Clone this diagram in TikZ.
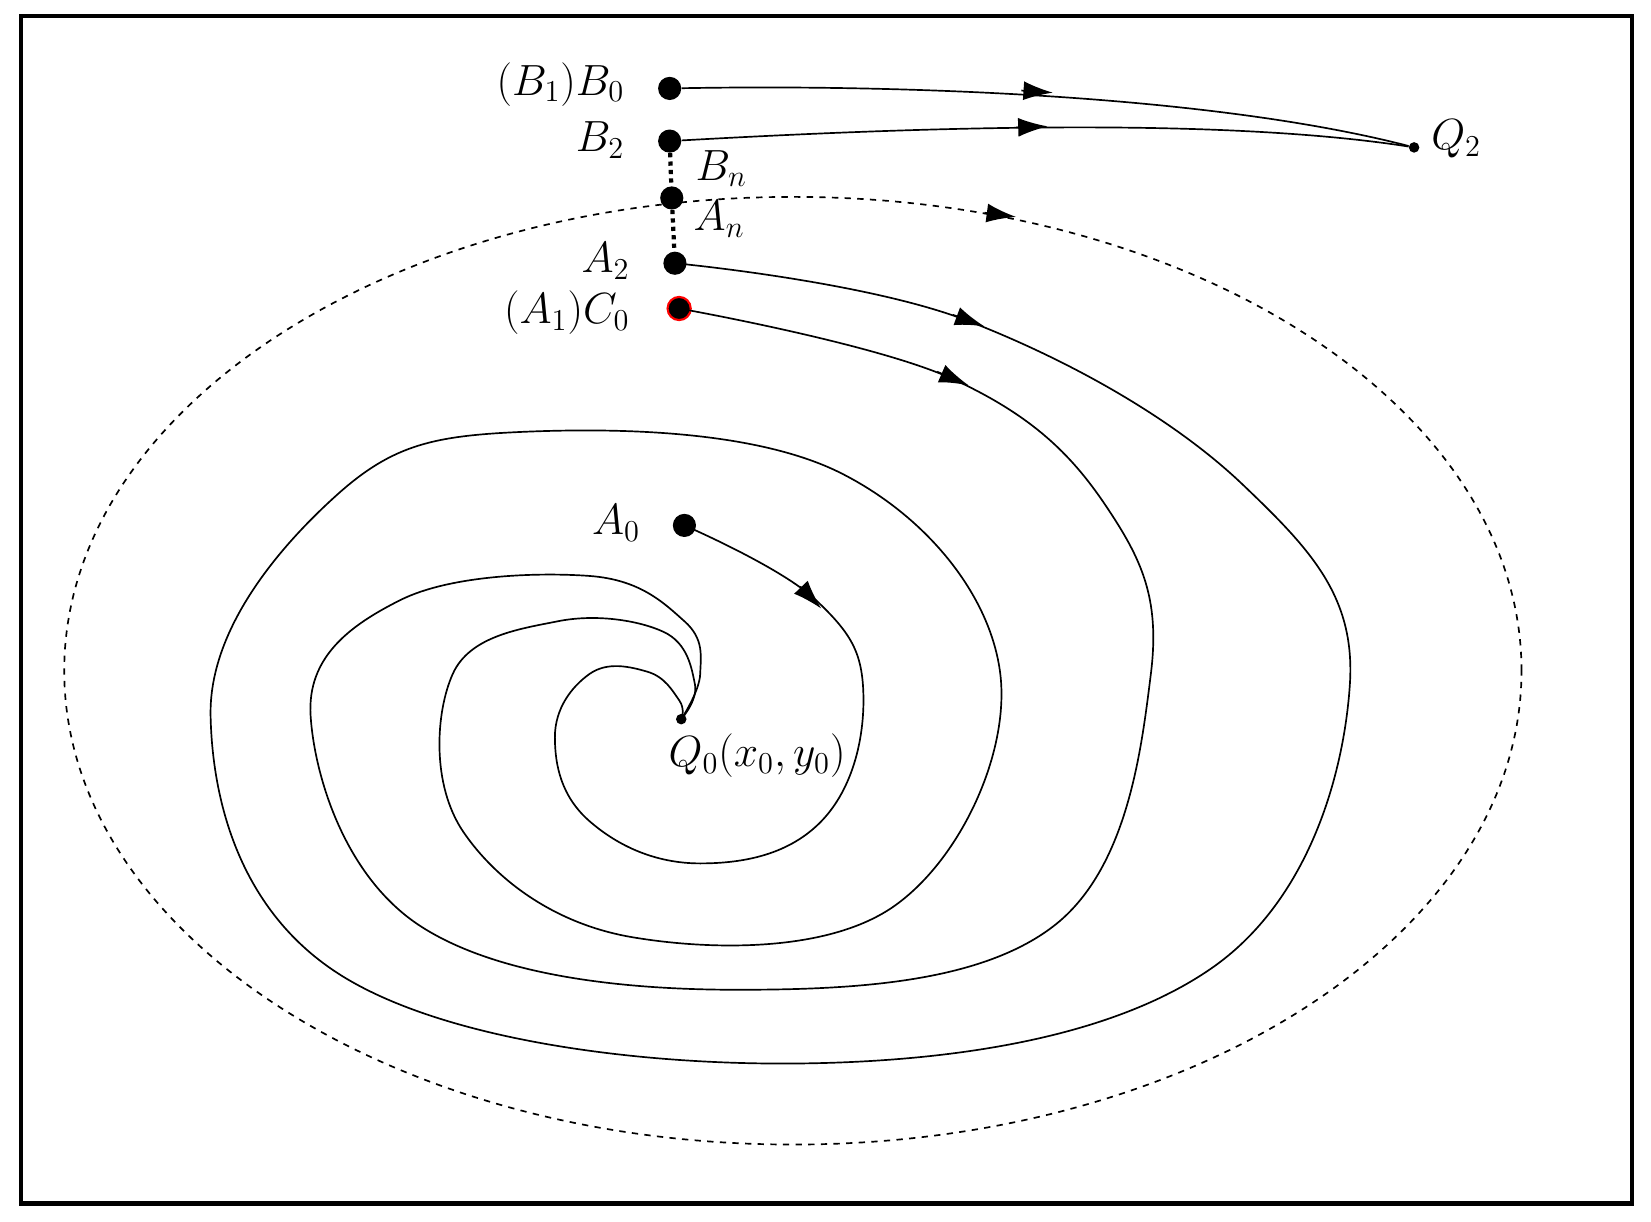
\documentclass[tikz,border=0pt]{standalone}
\usetikzlibrary{arrows.meta}
\begin{document}
\begin{tikzpicture}[x=0.5pt,y=-0.5pt,
  dot/.style={circle,fill=black,inner sep=0pt,minimum size=11pt},
  lab/.style={font=\fontsize{21}{24}\selectfont},
  curve/.style={line width=0.8pt},
  tip/.style={line width=0.8pt,-{Latex[length=14pt,width=9pt]}}]
\useasboundingbox (0,0) rectangle (1568,1160);
\draw[line width=2pt] (20,15) rectangle (1550,1143);
\node[dot] (B0) at (636,84) {};
\node[dot] (B2) at (636,134) {};
\node[dot] (Bn) at (638,188) {};
\node[dot] (A2) at (641,250) {};
\node[dot,draw=red,line width=1pt] (C0) at (645,293) {};
\node[dot] (A0) at (650,499) {};
\node[circle,fill=black,inner sep=0pt,minimum size=5pt] (Q0) at (647,683) {};
\node[circle,fill=black,inner sep=0pt,minimum size=5pt] (Q2) at (1343,140) {};
\node[lab,anchor=east] at (600,80) {$(B_1)B_0$};
\node[lab,anchor=east] at (600,133) {$B_2$};
\node[lab] at (685,160) {$B_n$};
\node[lab] at (683,208) {$A_n$};
\node[lab,anchor=east] at (605,248) {$A_2$};
\node[lab,anchor=east] at (605,297) {$(A_1)C_0$};
\node[lab,anchor=east] at (615,497) {$A_0$};
\node[lab] at (1383,132) {$Q_2$};
\node[lab,anchor=west] at (628,718) {$Q_0(x_0,y_0)$};
\draw[line width=2pt,dotted] (B2)--(Bn)--(A2);
\draw[curve] (B0) .. controls (850,80) and (1150,90) .. (Q2);
\draw[curve] (B2) .. controls (850,122) and (1150,110) .. (Q2);
\draw[tip] (970,86) -- (1000,88);
\draw[tip] (965,121) -- (995,120);
\draw[curve,dashed] (753,637) ellipse [x radius=692, y radius=-450];
\draw[tip] (935,202) -- (965,206);
\draw[curve] plot[smooth,tension=0.65] coordinates{(641,250) (920,305) (1180,460) (1282,650) (1150,920) (760,1010) (330,930) (200,680) (320,470) (500,410) (800,450) (950,640) (850,860) (600,890) (440,790) (430,640) (530,590) (630,600) (660,650) (647,683)};
\draw[tip] (905,299) -- (935,310);
\draw[curve] plot[smooth,tension=0.65] coordinates{(645,293) (905,360) (1050,480) (1093,640) (1000,880) (700,940) (400,880) (295,680) (380,570) (560,547) (650,590) (665,640) (647,683)};
\draw[tip] (890,353) -- (920,366);
\draw[curve] plot[smooth,tension=0.7] coordinates{(650,499) (775,570) (820,660) (780,780) (665,820) (560,780) (527,700) (560,640) (615,638) (645,665) (647,683)};
\draw[tip] (760,557) -- (780,578);
\end{tikzpicture}
\end{document}
